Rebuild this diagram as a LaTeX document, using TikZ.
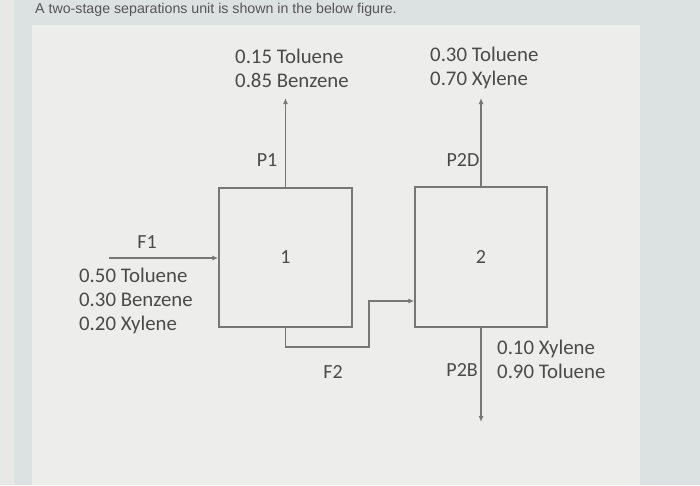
\documentclass[tikz,border=0pt]{standalone}
\usepackage{fontspec}
\setmainfont{Carlito}
\newfontfamily\titlefont{Liberation Sans}
\usetikzlibrary{arrows.meta}
\definecolor{outerbg}{HTML}{DCE2E1}
\definecolor{leftbg}{HTML}{E8E9E7}
\definecolor{panel}{HTML}{EDEDEC}
\definecolor{linec}{HTML}{777777}
\definecolor{textc}{HTML}{4A4A4A}
\definecolor{titlec}{HTML}{555555}
\tikzset{
  unitbox/.style={draw=linec, line width=1.4pt, minimum width=133pt, minimum height=139pt, inner sep=0pt, text=textc, font=\fontsize{20}{24}\selectfont},
  stream/.style={draw=linec, line width=1.4pt, -{Latex[length=6pt,width=5pt]}},
  lbl/.style={text=textc, font=\fontsize{20}{24}\selectfont, inner sep=0pt},
  comp/.style={text=textc, font=\fontsize{20.8}{24}\selectfont, inner sep=0pt, align=left, anchor=west}
}
\begin{document}
\begin{tikzpicture}[x=1pt,y=-1pt]
\useasboundingbox (0,0) rectangle (700,485);
\fill[outerbg] (0,0) rectangle (700,485);
\fill[leftbg] (0,0) rectangle (14,485);
\fill[panel] (32,25) rectangle (640,485);
\node[anchor=west, inner sep=0pt, text=titlec, font=\titlefont\fontsize{14.2}{16}\selectfont] (title) at (35,9.5) {A two-stage separations unit is shown in the below figure.};
% units
\node[unitbox] (s1) at (285.5,257.5) {1};
\node[unitbox, minimum width=132pt, minimum height=140pt] (s2) at (481,257) {2};
% coordinates
\coordinate (f1s) at (109,258);
\coordinate (p1e) at (285.5,98);
\coordinate (p2de) at (481,98);
\coordinate (p2be) at (481,422);
\coordinate (c1) at (369,347);
\coordinate (c2) at (369,301);
% streams
\draw[stream] (f1s) -- (s1.west |- f1s);
\draw[stream] (s1.north) -- (p1e);
\draw[stream] (s2.north) -- (p2de);
\draw[stream] (s2.south) -- (p2be);
\draw[stream] (s1.south) -- (s1.south |- c1) -- (c1) -- (c2) -- (s2.west |- c2);
% labels
\node[lbl] (f1) at (147,242) {F1};
\node[lbl] (p1) at (267,160) {P1};
\node[lbl, anchor=east] (p2d) at (479.5,160) {P2D};
\node[lbl, anchor=east] (p2b) at (478,370) {P2B};
\node[lbl] (f2) at (333,372) {F2};
% compositions
\node[comp] (cf1) at (79,301) {0.50 Toluene\\0.30 Benzene\\0.20 Xylene};
\node[comp] (cp1) at (235,68) {0.15 Toluene\\0.85 Benzene};
\node[comp] (cp2d) at (430,68) {0.30 Toluene\\0.70 Xylene};
\node[comp] (cp2b) at (497,359.5) {0.10 Xylene\\0.90 Toluene};
\end{tikzpicture}
\end{document}
